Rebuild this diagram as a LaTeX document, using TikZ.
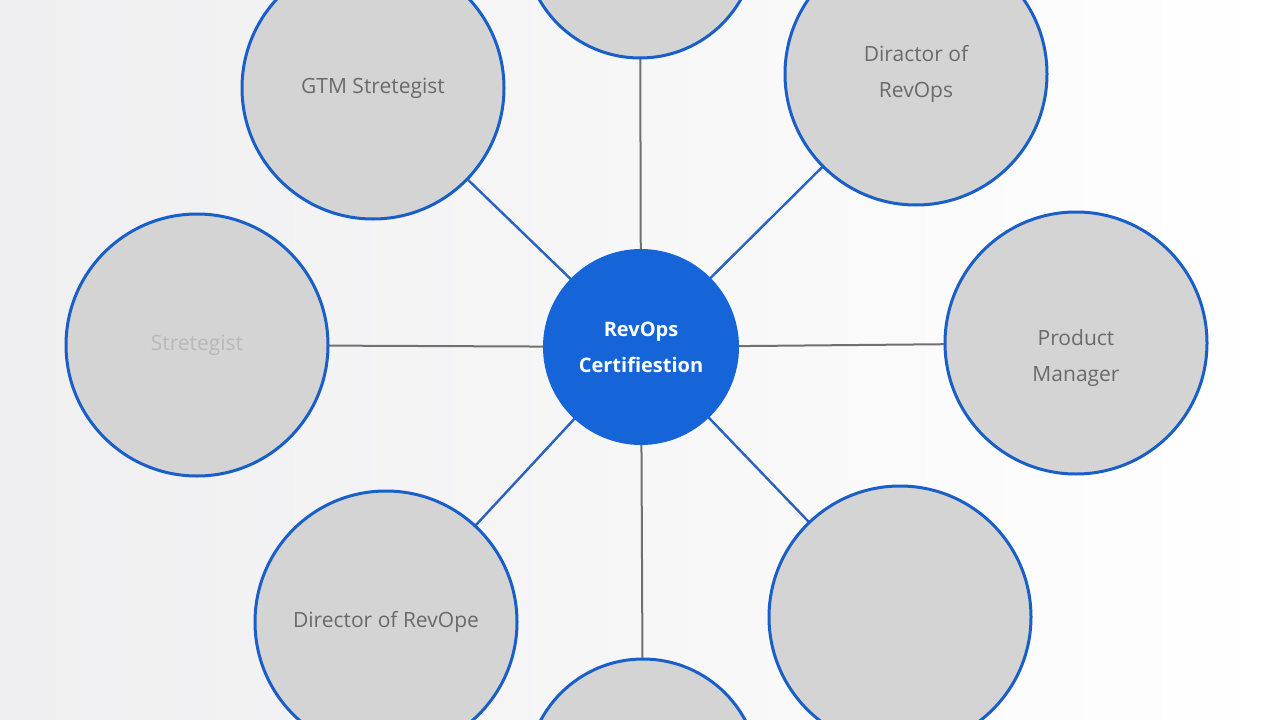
\documentclass[tikz,border=0pt]{standalone}
\usepackage{fontspec}
\setmainfont{Open Sans}
\pgfdeclarelayer{back}\pgfdeclarelayer{edges}
\pgfsetlayers{back,edges,main}
\definecolor{ring}{HTML}{1A5FC8}
\definecolor{fillg}{HTML}{D4D4D4}
\definecolor{txt}{HTML}{6A6A6A}
\definecolor{hub}{HTML}{1565D8}
\definecolor{grayline}{HTML}{707070}
\definecolor{blueline}{HTML}{2A62C0}
\tikzset{
 roletext/.style={text=txt,font=\fontsize{21}{36}\selectfont,align=center},
 role/.style={circle,draw=ring,line width=3pt,fill=fillg,minimum size=262pt,inner sep=0pt,roletext},
 gline/.style={draw=grayline,line width=2pt},
 bline/.style={draw=blueline,line width=2.4pt}
}
\begin{document}
\begin{tikzpicture}[x=1pt,y=-1pt]
\begin{pgfonlayer}{back}
\shade[left color=blue!6!gray!12,right color=white] (0,0) rectangle (1280,720);
\end{pgfonlayer}
\useasboundingbox (0,0) rectangle (1280,720);
\node[circle,fill=hub,minimum size=196pt,inner sep=0pt,text=white,font=\fontsize{20}{36}\selectfont\bfseries,align=center] (c) at (641,347) {RevOps\\Certifiestion};
\node[role,minimum size=232pt] (t) at (640,-58) {};
\node[role] (gtm) at (373,88) {GTM Stretegist};
\node[role] (dtr) at (916,74) {Diractor of\\RevOps};
\node[role] (l) at (197,345) {\textcolor{txt!25!fillg}{Stretegist}};
\node[role,label={[roletext,yshift=-15pt]center:Product\\Manager}] (pm) at (1076,343) {};
\node[role] (bl) at (386,622) {Director of RevOpe};
\node[role] (br) at (900,617) {};
\node[role,minimum size=232pt] (b) at (643,775) {};
\begin{pgfonlayer}{edges}
\draw[gline] (c.center) -- (t.center);
\draw[gline] (c.center) -- (b.center);
\draw[gline] (c.center) -- (l.center);
\draw[gline] (c.center) -- (pm.center);
\draw[bline] (c.center) -- (gtm.center);
\draw[bline] (c.center) -- (dtr.center);
\draw[bline] (c.center) -- (bl.center);
\draw[bline] (c.center) -- (br.center);
\end{pgfonlayer}
\end{tikzpicture}
\end{document}
